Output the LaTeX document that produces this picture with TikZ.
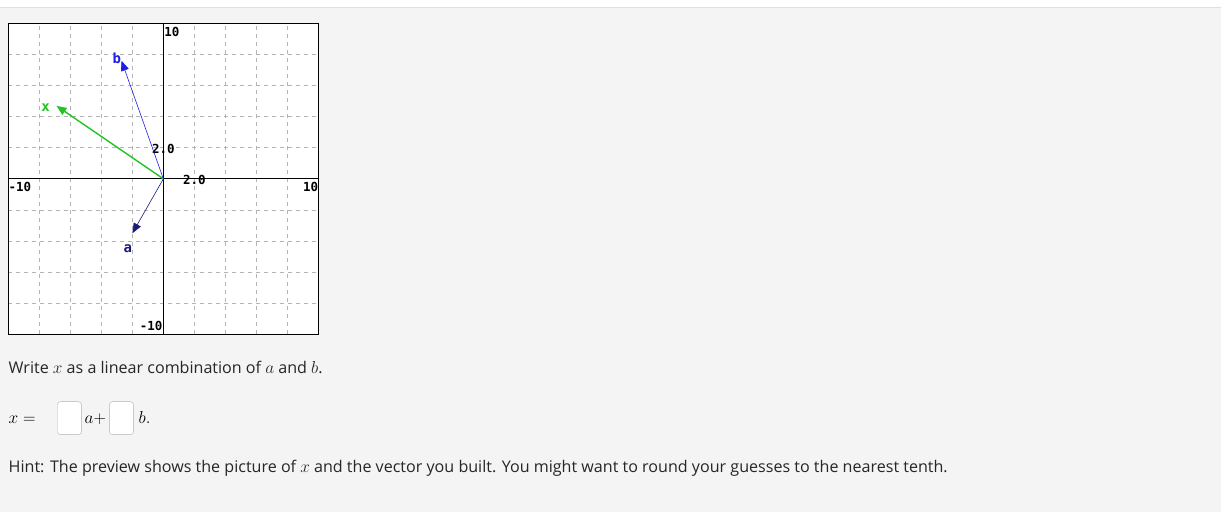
\documentclass[tikz,border=0pt]{standalone}
\usepackage{fontspec}
\setmainfont{Open Sans}
\newfontfamily\plotfont{DejaVu Sans Mono Bold}
\usetikzlibrary{arrows.meta}
\definecolor{pagebg}{HTML}{F4F4F4}
\definecolor{gridgray}{HTML}{B4B4B4}
\definecolor{vecx}{HTML}{22C322}
\definecolor{vecb}{HTML}{1E1EE6}
\definecolor{veca}{HTML}{1C1C78}
\definecolor{txt}{HTML}{262626}
\newcommand{\mathbig}[1]{{\fontsize{19}{20}\selectfont$#1$}}
\tikzset{
  gridline/.style={gridgray,dash pattern=on 4pt off 4pt,line width=0.8pt},
  vec/.style={-{Triangle[length=10pt,width=8pt]}},
  ticklab/.style={font=\plotfont\fontsize{12.5}{12}\selectfont,inner sep=0pt},
  veclab/.style={font=\plotfont\fontsize{14}{14}\selectfont,inner sep=0pt},
  ansbox/.style={draw=gray!60,fill=white,rounded corners=3pt,minimum width=24pt,minimum height=33pt,inner sep=0pt},
  textline/.style={anchor=base west,inner sep=0pt,text=txt,font=\fontsize{16.1}{18}\selectfont}
}
\begin{document}
\begin{tikzpicture}[x=1pt,y=-1pt]
  \fill[pagebg] (0,0) rectangle (1221,512);
  \fill[white] (0,0) rectangle (1221,7);
  \draw[gray!25,line width=1pt] (0,7.5)--(1221,7.5);
  \useasboundingbox (0,0) rectangle (1221,512);

  \begin{scope}[shift={(163,179)},x=15.5pt,y=15.55pt]
    \fill[white] (-10,-10) rectangle (10,10);
    \foreach \k in {-8,-6,-4,-2,2,4,6,8}{
      \draw[gridline] (\k,-10)--(\k,10);
      \draw[gridline] (-10,\k)--(10,\k);
    }
    \draw[line width=0.9pt] (-10,0)--(10,0);
    \draw[line width=0.9pt] (0,-10)--(0,10);
    \draw[line width=1pt] (-10,-10) rectangle (10,10);

    \coordinate (O) at (0,0);
    \coordinate (tipb) at (-2.7,7.6);
    \coordinate (tipx) at (-6.9,4.7);
    \coordinate (tipa) at (-2.0,-3.5);

    \node[ticklab,anchor=west] (ymax) at (0.05,9.45) {10};
    \node[ticklab,anchor=east] (ymin) at (-0.05,-9.45) {-10};
    \node[ticklab,anchor=west] (xmin) at (-10,-0.5) {-10};
    \node[ticklab,anchor=east] (xmax) at (10,-0.5) {10};
    \node[ticklab] (ytick) at (0,1.95) {2.0};
    \node[ticklab] (xtick) at (2,-0.05) {2.0};

    \draw[vec,vecx,line width=1.4pt] (O)--(tipx);
    \draw[vec,vecb,line width=0.6pt] (O)--(tipb);
    \draw[vec,veca,line width=0.6pt] (O)--(tipa);

    \node[veclab,text=vecx] (labx) at (-7.6,4.6) {x};
    \node[veclab,text=vecb] (labb) at (-3.0,7.75) {b};
    \node[veclab,text=veca] (laba) at (-2.3,-4.5) {a};
  \end{scope}

  \node[textline] (task) at (8,374) {Write \mathbig{x} as a linear combination of \mathbig{a} and \mathbig{b}.};

  \node[anchor=base west,inner sep=0pt] (xeq) at (8,424) {\mathbig{x =}};
  \node[ansbox] (boxa) at (69,418.5) {};
  \node[anchor=base west,inner sep=0pt] (aplus) at (84,424) {\mathbig{a+}};
  \node[ansbox] (boxb) at (121,418.5) {};
  \node[anchor=base west,inner sep=0pt] (bdot) at (138,424) {\mathbig{b.}};

  \node[textline] (hint) at (8,473) {Hint: The preview shows the picture of \mathbig{x} and the vector you built. You might want to round your guesses to the nearest tenth.};
\end{tikzpicture}
\end{document}
